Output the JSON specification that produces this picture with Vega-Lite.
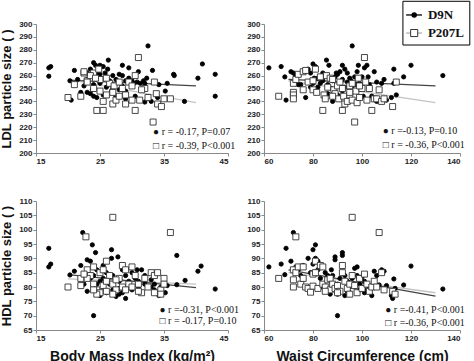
{
"$schema":"https://vega.github.io/schema/vega-lite/v6.json",
"padding":{"left":0,"top":0,"right":0,"bottom":0},
"background":"white",
"config":{
 "view":{"stroke":null},
 "axis":{"grid":false,"domainColor":"#888","tickColor":"#888","tickSize":3,"labelPadding":1,"labelOverlap":false,"labelSeparation":0,"labelBound":false,"labelFont":"Liberation Sans","labelFontSize":8,"labelFontWeight":"bold","labelColor":"#222","titleFont":"Liberation Sans","titleFontWeight":"bold","titleColor":"#111","titleFontSize":13},
 "legend":{"disable":true}
},
"datasets":{
 "ldl_bmi":[
  {"group":"D9N","bmi":17,"ldl":266},{"group":"D9N","bmi":17.3,"ldl":267},{"group":"D9N","bmi":17,"ldl":259.5},{"group":"D9N","bmi":20.3,"ldl":256},{"group":"D9N","bmi":20.5,"ldl":241},{"group":"D9N","bmi":21,"ldl":264},
  {"group":"D9N","bmi":26.3,"ldl":272},{"group":"D9N","bmi":28.5,"ldl":268},{"group":"D9N","bmi":29.5,"ldl":266},{"group":"D9N","bmi":32.5,"ldl":283},{"group":"D9N","bmi":33.2,"ldl":264},{"group":"D9N","bmi":31,"ldl":263},
  {"group":"D9N","bmi":36.5,"ldl":261},{"group":"D9N","bmi":36.6,"ldl":260},{"group":"D9N","bmi":40.3,"ldl":258},{"group":"D9N","bmi":41,"ldl":269},{"group":"D9N","bmi":43,"ldl":261},{"group":"D9N","bmi":43,"ldl":244},
  {"group":"D9N","bmi":38.2,"ldl":240},{"group":"D9N","bmi":35.2,"ldl":248},{"group":"D9N","bmi":35.5,"ldl":254},{"group":"D9N","bmi":34,"ldl":243},{"group":"D9N","bmi":33,"ldl":240},{"group":"D9N","bmi":32,"ldl":239.5},
  {"group":"D9N","bmi":34.2,"ldl":253},{"group":"D9N","bmi":24.5,"ldl":243},{"group":"D9N","bmi":23.5,"ldl":246},{"group":"D9N","bmi":23,"ldl":262},{"group":"D9N","bmi":23.5,"ldl":265},{"group":"D9N","bmi":24,"ldl":270},
  {"group":"D9N","bmi":24.3,"ldl":268},{"group":"D9N","bmi":25,"ldl":268},{"group":"D9N","bmi":25.5,"ldl":267},{"group":"D9N","bmi":24.5,"ldl":262},{"group":"D9N","bmi":23,"ldl":257},{"group":"D9N","bmi":22.5,"ldl":252},
  {"group":"D9N","bmi":23.8,"ldl":249},{"group":"D9N","bmi":25.8,"ldl":262},{"group":"D9N","bmi":26,"ldl":259},{"group":"D9N","bmi":26.5,"ldl":256},{"group":"D9N","bmi":27,"ldl":260},{"group":"D9N","bmi":27.5,"ldl":257},
  {"group":"D9N","bmi":28,"ldl":261},{"group":"D9N","bmi":28.5,"ldl":260},{"group":"D9N","bmi":29,"ldl":256},{"group":"D9N","bmi":29.5,"ldl":258},{"group":"D9N","bmi":30,"ldl":256},{"group":"D9N","bmi":30.3,"ldl":254},
  {"group":"D9N","bmi":30.8,"ldl":255},{"group":"D9N","bmi":31.3,"ldl":254},{"group":"D9N","bmi":31.8,"ldl":256},{"group":"D9N","bmi":31.5,"ldl":249},{"group":"D9N","bmi":29,"ldl":248},{"group":"D9N","bmi":28,"ldl":249},
  {"group":"D9N","bmi":27,"ldl":250},{"group":"D9N","bmi":26,"ldl":251},{"group":"D9N","bmi":25,"ldl":254},{"group":"D9N","bmi":24,"ldl":253},{"group":"D9N","bmi":23,"ldl":247},{"group":"D9N","bmi":27.5,"ldl":244},
  {"group":"D9N","bmi":29,"ldl":242},{"group":"D9N","bmi":28.5,"ldl":252},{"group":"D9N","bmi":25.5,"ldl":245},{"group":"D9N","bmi":26.8,"ldl":248},{"group":"D9N","bmi":30.5,"ldl":244},{"group":"D9N","bmi":32,"ldl":254},
  {"group":"D9N","bmi":32.3,"ldl":258},{"group":"D9N","bmi":22,"ldl":247},{"group":"D9N","bmi":21.5,"ldl":257},{"group":"D9N","bmi":24,"ldl":244},{"group":"D9N","bmi":26.2,"ldl":265},{"group":"D9N","bmi":25,"ldl":261},
  {"group":"P207L","bmi":20,"ldl":243},{"group":"P207L","bmi":21,"ldl":253},{"group":"P207L","bmi":22,"ldl":244},{"group":"P207L","bmi":22.5,"ldl":262},{"group":"P207L","bmi":23,"ldl":256},{"group":"P207L","bmi":24.5,"ldl":233},
  {"group":"P207L","bmi":25.5,"ldl":233},{"group":"P207L","bmi":27,"ldl":238},{"group":"P207L","bmi":29,"ldl":238},{"group":"P207L","bmi":30.5,"ldl":233},{"group":"P207L","bmi":33.3,"ldl":224},{"group":"P207L","bmi":31,"ldl":274},
  {"group":"P207L","bmi":30.5,"ldl":260},{"group":"P207L","bmi":33.5,"ldl":255},{"group":"P207L","bmi":32,"ldl":250},{"group":"P207L","bmi":33.8,"ldl":246},{"group":"P207L","bmi":34,"ldl":238},{"group":"P207L","bmi":34.6,"ldl":236},
  {"group":"P207L","bmi":35,"ldl":242},{"group":"P207L","bmi":36,"ldl":242},{"group":"P207L","bmi":32.5,"ldl":243},{"group":"P207L","bmi":30,"ldl":241},{"group":"P207L","bmi":31.2,"ldl":241},{"group":"P207L","bmi":27.5,"ldl":241},
  {"group":"P207L","bmi":28,"ldl":244},{"group":"P207L","bmi":26,"ldl":245},{"group":"P207L","bmi":25,"ldl":248},{"group":"P207L","bmi":24,"ldl":250},{"group":"P207L","bmi":23,"ldl":255},{"group":"P207L","bmi":24,"ldl":262},
  {"group":"P207L","bmi":24.8,"ldl":265},{"group":"P207L","bmi":25,"ldl":257},{"group":"P207L","bmi":26.5,"ldl":254},{"group":"P207L","bmi":27.2,"ldl":252},{"group":"P207L","bmi":28.5,"ldl":250},{"group":"P207L","bmi":29.5,"ldl":255},
  {"group":"P207L","bmi":30,"ldl":252},{"group":"P207L","bmi":31.5,"ldl":249},{"group":"P207L","bmi":26,"ldl":258},{"group":"P207L","bmi":23.5,"ldl":260},{"group":"P207L","bmi":25.5,"ldl":240},{"group":"P207L","bmi":27,"ldl":247},
  {"group":"P207L","bmi":29,"ldl":245},{"group":"P207L","bmi":28,"ldl":255},{"group":"P207L","bmi":22.5,"ldl":263},{"group":"P207L","bmi":24.3,"ldl":258}
 ],
 "ldl_waist":[
  {"group":"D9N","waist":62,"ldl":266},{"group":"D9N","waist":67,"ldl":267},{"group":"D9N","waist":68.5,"ldl":259},{"group":"D9N","waist":69,"ldl":241},{"group":"D9N","waist":71,"ldl":263},{"group":"D9N","waist":72,"ldl":262},
  {"group":"D9N","waist":73,"ldl":260},{"group":"D9N","waist":74,"ldl":253},{"group":"D9N","waist":75,"ldl":253},{"group":"D9N","waist":77,"ldl":243},{"group":"D9N","waist":78,"ldl":265},{"group":"D9N","waist":79,"ldl":262},
  {"group":"D9N","waist":80,"ldl":269},{"group":"D9N","waist":80.5,"ldl":258},{"group":"D9N","waist":81,"ldl":267},{"group":"D9N","waist":82,"ldl":251},{"group":"D9N","waist":83,"ldl":254},{"group":"D9N","waist":84,"ldl":262},
  {"group":"D9N","waist":85.5,"ldl":272},{"group":"D9N","waist":86.5,"ldl":268},{"group":"D9N","waist":86,"ldl":260},{"group":"D9N","waist":86,"ldl":253},{"group":"D9N","waist":87.5,"ldl":250},{"group":"D9N","waist":88,"ldl":240},
  {"group":"D9N","waist":88,"ldl":256},{"group":"D9N","waist":89,"ldl":259},{"group":"D9N","waist":89.5,"ldl":262},{"group":"D9N","waist":90,"ldl":261},{"group":"D9N","waist":91,"ldl":263},{"group":"D9N","waist":92,"ldl":268},
  {"group":"D9N","waist":92,"ldl":257},{"group":"D9N","waist":93,"ldl":265},{"group":"D9N","waist":94,"ldl":255},{"group":"D9N","waist":94,"ldl":262},{"group":"D9N","waist":95,"ldl":249},{"group":"D9N","waist":95.5,"ldl":256},
  {"group":"D9N","waist":96,"ldl":283},{"group":"D9N","waist":97,"ldl":259},{"group":"D9N","waist":98,"ldl":263},{"group":"D9N","waist":98.5,"ldl":268},{"group":"D9N","waist":99,"ldl":254},{"group":"D9N","waist":100,"ldl":259},
  {"group":"D9N","waist":100.5,"ldl":244},{"group":"D9N","waist":101,"ldl":266},{"group":"D9N","waist":102,"ldl":268},{"group":"D9N","waist":102.5,"ldl":259},{"group":"D9N","waist":103,"ldl":253},{"group":"D9N","waist":104,"ldl":244},
  {"group":"D9N","waist":105,"ldl":263},{"group":"D9N","waist":106,"ldl":255},{"group":"D9N","waist":106,"ldl":240},{"group":"D9N","waist":108,"ldl":254},{"group":"D9N","waist":109,"ldl":257},{"group":"D9N","waist":110,"ldl":241},
  {"group":"D9N","waist":112,"ldl":243},{"group":"D9N","waist":113,"ldl":265},{"group":"D9N","waist":114,"ldl":245},{"group":"D9N","waist":113,"ldl":254},{"group":"D9N","waist":117,"ldl":259},{"group":"D9N","waist":120,"ldl":268},
  {"group":"D9N","waist":133,"ldl":260},{"group":"D9N","waist":90,"ldl":245},{"group":"D9N","waist":92,"ldl":248},{"group":"D9N","waist":96,"ldl":250},{"group":"D9N","waist":86,"ldl":246},{"group":"D9N","waist":84,"ldl":256},
  {"group":"D9N","waist":80,"ldl":254},{"group":"D9N","waist":79,"ldl":251},{"group":"D9N","waist":82,"ldl":258},{"group":"D9N","waist":97.5,"ldl":253},{"group":"D9N","waist":91,"ldl":253},{"group":"D9N","waist":93,"ldl":251},
  {"group":"D9N","waist":87,"ldl":258},{"group":"D9N","waist":95,"ldl":258},
  {"group":"P207L","waist":66,"ldl":244},{"group":"P207L","waist":72,"ldl":247},{"group":"P207L","waist":72,"ldl":245},{"group":"P207L","waist":72,"ldl":242},{"group":"P207L","waist":72,"ldl":254},{"group":"P207L","waist":73,"ldl":257},
  {"group":"P207L","waist":74,"ldl":261},{"group":"P207L","waist":76,"ldl":249},{"group":"P207L","waist":76,"ldl":263},{"group":"P207L","waist":77,"ldl":264},{"group":"P207L","waist":78,"ldl":255},{"group":"P207L","waist":80,"ldl":249},
  {"group":"P207L","waist":80,"ldl":256},{"group":"P207L","waist":81,"ldl":265},{"group":"P207L","waist":81.5,"ldl":247},{"group":"P207L","waist":83,"ldl":259},{"group":"P207L","waist":84,"ldl":233},{"group":"P207L","waist":84.5,"ldl":245},
  {"group":"P207L","waist":85,"ldl":242},{"group":"P207L","waist":85.5,"ldl":260},{"group":"P207L","waist":86,"ldl":251},{"group":"P207L","waist":87,"ldl":258},{"group":"P207L","waist":88,"ldl":257},{"group":"P207L","waist":88.5,"ldl":249},
  {"group":"P207L","waist":89,"ldl":246},{"group":"P207L","waist":90,"ldl":252},{"group":"P207L","waist":90.5,"ldl":242},{"group":"P207L","waist":91,"ldl":255},{"group":"P207L","waist":92,"ldl":233},{"group":"P207L","waist":92.5,"ldl":244},
  {"group":"P207L","waist":93,"ldl":238},{"group":"P207L","waist":94,"ldl":240},{"group":"P207L","waist":95,"ldl":252},{"group":"P207L","waist":95,"ldl":245},{"group":"P207L","waist":96,"ldl":241},{"group":"P207L","waist":97,"ldl":224},
  {"group":"P207L","waist":97.5,"ldl":248},{"group":"P207L","waist":98,"ldl":239},{"group":"P207L","waist":98.5,"ldl":258},{"group":"P207L","waist":99,"ldl":243},{"group":"P207L","waist":100,"ldl":250},{"group":"P207L","waist":101,"ldl":274},
  {"group":"P207L","waist":101.5,"ldl":255},{"group":"P207L","waist":102,"ldl":241},{"group":"P207L","waist":103,"ldl":250},{"group":"P207L","waist":104,"ldl":233},{"group":"P207L","waist":105,"ldl":242},{"group":"P207L","waist":106,"ldl":242},
  {"group":"P207L","waist":107,"ldl":249},{"group":"P207L","waist":108,"ldl":240},{"group":"P207L","waist":109,"ldl":242},{"group":"P207L","waist":112.5,"ldl":236},{"group":"P207L","waist":114,"ldl":255},{"group":"P207L","waist":92,"ldl":250},
  {"group":"P207L","waist":95,"ldl":247},{"group":"P207L","waist":88,"ldl":244},{"group":"P207L","waist":99,"ldl":252},{"group":"P207L","waist":96,"ldl":254}
 ],
 "hdl_bmi":[
  {"group":"D9N","bmi":17,"hdl":93.5},{"group":"D9N","bmi":17,"hdl":87},{"group":"D9N","bmi":17.3,"hdl":88},{"group":"D9N","bmi":20.3,"hdl":84.2},{"group":"D9N","bmi":21,"hdl":85.5},{"group":"D9N","bmi":22,"hdl":87.5},
  {"group":"D9N","bmi":22.3,"hdl":99},{"group":"D9N","bmi":23,"hdl":89.5},{"group":"D9N","bmi":23.5,"hdl":89},{"group":"D9N","bmi":23.8,"hdl":94.7},{"group":"D9N","bmi":24.3,"hdl":92},{"group":"D9N","bmi":24,"hdl":70},
  {"group":"D9N","bmi":24.5,"hdl":86},{"group":"D9N","bmi":25,"hdl":82},{"group":"D9N","bmi":25.5,"hdl":87.5},{"group":"D9N","bmi":26.8,"hdl":93},{"group":"D9N","bmi":26.8,"hdl":90},{"group":"D9N","bmi":27.8,"hdl":90.5},
  {"group":"D9N","bmi":26,"hdl":85},{"group":"D9N","bmi":27,"hdl":84},{"group":"D9N","bmi":28,"hdl":82},{"group":"D9N","bmi":28.5,"hdl":86},{"group":"D9N","bmi":29,"hdl":84},{"group":"D9N","bmi":29.5,"hdl":80},
  {"group":"D9N","bmi":30,"hdl":85},{"group":"D9N","bmi":30.8,"hdl":86},{"group":"D9N","bmi":31.5,"hdl":86},{"group":"D9N","bmi":31,"hdl":82},{"group":"D9N","bmi":32,"hdl":81},{"group":"D9N","bmi":33,"hdl":80},
  {"group":"D9N","bmi":33.5,"hdl":79},{"group":"D9N","bmi":34.2,"hdl":77},{"group":"D9N","bmi":35.2,"hdl":78},{"group":"D9N","bmi":35.5,"hdl":80.5},{"group":"D9N","bmi":37,"hdl":91},{"group":"D9N","bmi":37,"hdl":80.8},
  {"group":"D9N","bmi":38.3,"hdl":82.3},{"group":"D9N","bmi":40.3,"hdl":85.5},{"group":"D9N","bmi":40.8,"hdl":87.3},{"group":"D9N","bmi":43,"hdl":79.3},{"group":"D9N","bmi":23,"hdl":78.5},{"group":"D9N","bmi":24,"hdl":80},
  {"group":"D9N","bmi":25,"hdl":77},{"group":"D9N","bmi":26,"hdl":78},{"group":"D9N","bmi":27.5,"hdl":76.7},{"group":"D9N","bmi":29,"hdl":76},{"group":"D9N","bmi":28,"hdl":79.5},{"group":"D9N","bmi":30,"hdl":79},
  {"group":"D9N","bmi":22.5,"hdl":81},{"group":"D9N","bmi":23.5,"hdl":83},{"group":"D9N","bmi":24.5,"hdl":81},{"group":"D9N","bmi":25.5,"hdl":80},{"group":"D9N","bmi":26.5,"hdl":81},{"group":"D9N","bmi":27,"hdl":79},
  {"group":"D9N","bmi":28.5,"hdl":78},{"group":"D9N","bmi":31,"hdl":80},{"group":"D9N","bmi":32.5,"hdl":80},{"group":"D9N","bmi":33.5,"hdl":81},{"group":"D9N","bmi":29.5,"hdl":82},{"group":"D9N","bmi":32,"hdl":84},
  {"group":"D9N","bmi":23,"hdl":86},{"group":"D9N","bmi":24,"hdl":84},{"group":"D9N","bmi":25.5,"hdl":83},{"group":"D9N","bmi":26.5,"hdl":83.5},{"group":"D9N","bmi":30.5,"hdl":83},{"group":"D9N","bmi":28,"hdl":77.5},
  {"group":"D9N","bmi":33,"hdl":82.5},{"group":"D9N","bmi":34.5,"hdl":80},
  {"group":"P207L","bmi":20,"hdl":80},{"group":"P207L","bmi":22,"hdl":80.5},{"group":"P207L","bmi":22,"hdl":83},{"group":"P207L","bmi":22.8,"hdl":97.5},{"group":"P207L","bmi":23,"hdl":86},{"group":"P207L","bmi":23.5,"hdl":84},
  {"group":"P207L","bmi":24,"hdl":87},{"group":"P207L","bmi":24,"hdl":81},{"group":"P207L","bmi":24.5,"hdl":79},{"group":"P207L","bmi":25,"hdl":78},{"group":"P207L","bmi":25.5,"hdl":80.5},{"group":"P207L","bmi":26,"hdl":89},
  {"group":"P207L","bmi":26.5,"hdl":84},{"group":"P207L","bmi":27,"hdl":104.3},{"group":"P207L","bmi":27,"hdl":81},{"group":"P207L","bmi":27.5,"hdl":79},{"group":"P207L","bmi":28,"hdl":83},{"group":"P207L","bmi":28.5,"hdl":87.5},
  {"group":"P207L","bmi":29,"hdl":86},{"group":"P207L","bmi":29.5,"hdl":81},{"group":"P207L","bmi":30,"hdl":87},{"group":"P207L","bmi":30.5,"hdl":84},{"group":"P207L","bmi":31,"hdl":81},{"group":"P207L","bmi":31.5,"hdl":78},
  {"group":"P207L","bmi":32,"hdl":83},{"group":"P207L","bmi":33,"hdl":85},{"group":"P207L","bmi":33.5,"hdl":84},{"group":"P207L","bmi":34,"hdl":85},{"group":"P207L","bmi":34.5,"hdl":79},{"group":"P207L","bmi":35,"hdl":83},
  {"group":"P207L","bmi":35,"hdl":81},{"group":"P207L","bmi":36,"hdl":99},{"group":"P207L","bmi":33.5,"hdl":78},{"group":"P207L","bmi":30,"hdl":80},{"group":"P207L","bmi":26,"hdl":82},{"group":"P207L","bmi":27.5,"hdl":82.5},
  {"group":"P207L","bmi":25,"hdl":85},{"group":"P207L","bmi":23,"hdl":83},{"group":"P207L","bmi":28.5,"hdl":80},{"group":"P207L","bmi":32.5,"hdl":80},{"group":"P207L","bmi":24.5,"hdl":77.5},{"group":"P207L","bmi":26,"hdl":78.5},
  {"group":"P207L","bmi":29,"hdl":79},{"group":"P207L","bmi":31,"hdl":78.5},{"group":"P207L","bmi":34.5,"hdl":77.5},{"group":"P207L","bmi":27,"hdl":77.5},{"group":"P207L","bmi":24,"hdl":79},{"group":"P207L","bmi":22.5,"hdl":84.5},
  {"group":"P207L","bmi":25.5,"hdl":86}
 ],
 "hdl_waist":[
  {"group":"D9N","waist":62,"hdl":87},{"group":"D9N","waist":67,"hdl":88},{"group":"D9N","waist":68.5,"hdl":84.3},{"group":"D9N","waist":69,"hdl":93.5},{"group":"D9N","waist":71,"hdl":89},{"group":"D9N","waist":72,"hdl":99},
  {"group":"D9N","waist":73,"hdl":87},{"group":"D9N","waist":74,"hdl":86},{"group":"D9N","waist":75,"hdl":84},{"group":"D9N","waist":76,"hdl":87.5},{"group":"D9N","waist":78,"hdl":90},{"group":"D9N","waist":79,"hdl":85},
  {"group":"D9N","waist":80,"hdl":93},{"group":"D9N","waist":80,"hdl":88},{"group":"D9N","waist":81,"hdl":94.7},{"group":"D9N","waist":81,"hdl":90},{"group":"D9N","waist":82,"hdl":86},{"group":"D9N","waist":82,"hdl":89},
  {"group":"D9N","waist":83,"hdl":83},{"group":"D9N","waist":85,"hdl":85},{"group":"D9N","waist":86,"hdl":84},{"group":"D9N","waist":87,"hdl":82},{"group":"D9N","waist":87.5,"hdl":86},{"group":"D9N","waist":88,"hdl":84},
  {"group":"D9N","waist":89,"hdl":90.5},{"group":"D9N","waist":89,"hdl":89.5},{"group":"D9N","waist":90,"hdl":70},{"group":"D9N","waist":90,"hdl":81},{"group":"D9N","waist":91,"hdl":83},{"group":"D9N","waist":92,"hdl":92},
  {"group":"D9N","waist":92,"hdl":91},{"group":"D9N","waist":93,"hdl":84},{"group":"D9N","waist":94,"hdl":82},{"group":"D9N","waist":95,"hdl":80},{"group":"D9N","waist":96,"hdl":83},{"group":"D9N","waist":97,"hdl":86.5},
  {"group":"D9N","waist":98,"hdl":87},{"group":"D9N","waist":98,"hdl":84},{"group":"D9N","waist":99,"hdl":81},{"group":"D9N","waist":100,"hdl":83.5},{"group":"D9N","waist":101,"hdl":82},{"group":"D9N","waist":102,"hdl":79},
  {"group":"D9N","waist":103,"hdl":80},{"group":"D9N","waist":104,"hdl":77},{"group":"D9N","waist":105,"hdl":85.5},{"group":"D9N","waist":106,"hdl":84},{"group":"D9N","waist":107,"hdl":80.7},{"group":"D9N","waist":108,"hdl":86},
  {"group":"D9N","waist":109,"hdl":85.5},{"group":"D9N","waist":112,"hdl":77},{"group":"D9N","waist":112.5,"hdl":76},{"group":"D9N","waist":113,"hdl":82.8},{"group":"D9N","waist":113.5,"hdl":79.5},{"group":"D9N","waist":117,"hdl":80.7},
  {"group":"D9N","waist":120,"hdl":87.3},{"group":"D9N","waist":133,"hdl":79.3},{"group":"D9N","waist":110,"hdl":80.5},{"group":"D9N","waist":87,"hdl":77.5},{"group":"D9N","waist":90,"hdl":77.5},{"group":"D9N","waist":93,"hdl":77},
  {"group":"D9N","waist":95,"hdl":78},{"group":"D9N","waist":99,"hdl":79},{"group":"D9N","waist":101,"hdl":78},{"group":"D9N","waist":84,"hdl":80},{"group":"D9N","waist":86,"hdl":79},{"group":"D9N","waist":97,"hdl":80},
  {"group":"D9N","waist":94,"hdl":78.5},{"group":"D9N","waist":88,"hdl":80.5},{"group":"D9N","waist":100,"hdl":80},
  {"group":"P207L","waist":66,"hdl":83},{"group":"P207L","waist":72,"hdl":86},{"group":"P207L","waist":72,"hdl":82.5},{"group":"P207L","waist":72,"hdl":80},{"group":"P207L","waist":73,"hdl":97.5},{"group":"P207L","waist":73,"hdl":85},
  {"group":"P207L","waist":74,"hdl":87},{"group":"P207L","waist":75,"hdl":81},{"group":"P207L","waist":76,"hdl":87},{"group":"P207L","waist":76,"hdl":83},{"group":"P207L","waist":77,"hdl":80},{"group":"P207L","waist":78,"hdl":79.5},
  {"group":"P207L","waist":79,"hdl":78.2},{"group":"P207L","waist":80,"hdl":84.5},{"group":"P207L","waist":80,"hdl":80.3},{"group":"P207L","waist":81,"hdl":89},{"group":"P207L","waist":81,"hdl":85},{"group":"P207L","waist":82,"hdl":79.5},
  {"group":"P207L","waist":83,"hdl":87.5},{"group":"P207L","waist":84,"hdl":87},{"group":"P207L","waist":84,"hdl":81},{"group":"P207L","waist":85,"hdl":80},{"group":"P207L","waist":86,"hdl":82.5},{"group":"P207L","waist":87,"hdl":83},
  {"group":"P207L","waist":87,"hdl":79},{"group":"P207L","waist":88,"hdl":81},{"group":"P207L","waist":89,"hdl":79.5},{"group":"P207L","waist":90,"hdl":80.5},{"group":"P207L","waist":91,"hdl":78.5},{"group":"P207L","waist":92,"hdl":87.5},
  {"group":"P207L","waist":92,"hdl":85},{"group":"P207L","waist":93,"hdl":82},{"group":"P207L","waist":94,"hdl":79.5},{"group":"P207L","waist":95,"hdl":81},{"group":"P207L","waist":96,"hdl":104.3},{"group":"P207L","waist":96,"hdl":84},
  {"group":"P207L","waist":97,"hdl":80.5},{"group":"P207L","waist":98,"hdl":78},{"group":"P207L","waist":99,"hdl":83},{"group":"P207L","waist":100,"hdl":79.5},{"group":"P207L","waist":101,"hdl":84.5},{"group":"P207L","waist":102,"hdl":81},
  {"group":"P207L","waist":103,"hdl":78.5},{"group":"P207L","waist":104,"hdl":80},{"group":"P207L","waist":105,"hdl":82},{"group":"P207L","waist":106,"hdl":80},{"group":"P207L","waist":107,"hdl":99},{"group":"P207L","waist":108,"hdl":85},
  {"group":"P207L","waist":109,"hdl":79},{"group":"P207L","waist":112.5,"hdl":78.5},{"group":"P207L","waist":113.5,"hdl":77.5},{"group":"P207L","waist":95,"hdl":77.5},{"group":"P207L","waist":90,"hdl":78},{"group":"P207L","waist":85,"hdl":78.5}
 ],
 "fits":[
  {"panel":"ldl_bmi","group":"D9N","x":20,"y":256.5},{"panel":"ldl_bmi","group":"D9N","x":40,"y":252},
  {"panel":"ldl_bmi","group":"P207L","x":20,"y":257},{"panel":"ldl_bmi","group":"P207L","x":40,"y":239},
  {"panel":"ldl_waist","group":"D9N","x":70,"y":257},{"panel":"ldl_waist","group":"D9N","x":130,"y":252},
  {"panel":"ldl_waist","group":"P207L","x":70,"y":256},{"panel":"ldl_waist","group":"P207L","x":130,"y":239},
  {"panel":"hdl_bmi","group":"D9N","x":20,"y":84.3},{"panel":"hdl_bmi","group":"D9N","x":40,"y":79.8},
  {"panel":"hdl_bmi","group":"P207L","x":20,"y":82.8},{"panel":"hdl_bmi","group":"P207L","x":40,"y":81},
  {"panel":"hdl_waist","group":"D9N","x":70,"y":86},{"panel":"hdl_waist","group":"D9N","x":130,"y":76.8},
  {"panel":"hdl_waist","group":"P207L","x":70,"y":85},{"panel":"hdl_waist","group":"P207L","x":130,"y":78}
 ],
 "notes":[
  {"panel":"ldl_bmi","x":33.3,"y":216,"label":"● r = -0.17, P=0.07"},
  {"panel":"ldl_bmi","x":33.3,"y":205.7,"label":"□ r = -0.39, P<0.001"},
  {"panel":"ldl_waist","x":108.5,"y":217,"label":"● r =-0.13, P=0.10"},
  {"panel":"ldl_waist","x":108.5,"y":206,"label":"□ r = -0.36, P<0.001"},
  {"panel":"hdl_bmi","x":34.3,"y":72,"label":"● r =-0.31, P<0.001"},
  {"panel":"hdl_bmi","x":34.3,"y":68.3,"label":"□ r = -0.17, P=0.10"},
  {"panel":"hdl_waist","x":109.5,"y":72,"label":"● r =-0.41, P<0.001"},
  {"panel":"hdl_waist","x":109.5,"y":67.6,"label":"□ r =-0.36, P<0.001"}
 ]
},
"spacing":32,
"vconcat":[
 {"bounds":"flush","spacing":36,"hconcat":[
  {"width":192,"height":129,
   "encoding":{
    "x":{"type":"quantitative","scale":{"domain":[15,45],"nice":false},"axis":{"values":[15,25,35,45],"title":null,"labelOverlap":false}},
    "y":{"type":"quantitative","scale":{"domain":[200,300],"nice":false},"axis":{"values":[200,210,220,230,240,250,260,270,280,290,300],"labelOverlap":false,"title":"LDL particle size (  )","titlePadding":5}}},
   "layer":[
   {"data":{"name":"fits"},"transform":[{"filter":"datum.panel==='ldl_bmi' && datum.group==='P207L'"}],"mark":{"type":"line","strokeWidth":1.3,"color":"#c4c4c4"},
    "encoding":{"x":{"field":"x"},"y":{"field":"y"}}},
   {"data":{"name":"fits"},"transform":[{"filter":"datum.panel==='ldl_bmi' && datum.group==='D9N'"}],"mark":{"type":"line","strokeWidth":1.3,"color":"#444"},
    "encoding":{"x":{"field":"x"},"y":{"field":"y"}}},
   {"data":{"name":"ldl_bmi"},"mark":{"type":"point","opacity":1,"strokeWidth":0.9},
    "encoding":{"x":{"field":"bmi"},"y":{"field":"ldl"},
     "shape":{"field":"group","type":"nominal","scale":{"domain":["D9N","P207L"],"range":["circle","square"]}},
     "fill":{"field":"group","type":"nominal","scale":{"domain":["D9N","P207L"],"range":["black","white"]}},
     "stroke":{"field":"group","type":"nominal","scale":{"domain":["D9N","P207L"],"range":["black","#333"]}},
     "size":{"field":"group","type":"nominal","scale":{"domain":["D9N","P207L"],"range":[18,36]}}}},
   {"data":{"name":"notes"},"transform":[{"filter":"datum.panel==='ldl_bmi'"}],"mark":{"type":"text","align":"left","baseline":"middle","font":"Liberation Serif","fontSize":10,"color":"#111"},
    "encoding":{"x":{"field":"x"},"y":{"field":"y"},"text":{"field":"label"}}}
  ]},
  {"width":196,"height":129,
   "encoding":{
    "x":{"type":"quantitative","scale":{"domain":[60,140],"nice":false},"axis":{"values":[60,80,100,120,140],"title":null,"labelOverlap":false}},
    "y":{"type":"quantitative","scale":{"domain":[200,300],"nice":false},"axis":{"values":[200,210,220,230,240,250,260,270,280,290,300],"labelOverlap":false,"title":null}}},
   "layer":[
   {"data":{"name":"fits"},"transform":[{"filter":"datum.panel==='ldl_waist' && datum.group==='P207L'"}],"mark":{"type":"line","strokeWidth":1.3,"color":"#c4c4c4"},
    "encoding":{"x":{"field":"x"},"y":{"field":"y"}}},
   {"data":{"name":"fits"},"transform":[{"filter":"datum.panel==='ldl_waist' && datum.group==='D9N'"}],"mark":{"type":"line","strokeWidth":1.3,"color":"#444"},
    "encoding":{"x":{"field":"x"},"y":{"field":"y"}}},
   {"data":{"name":"ldl_waist"},"mark":{"type":"point","opacity":1,"strokeWidth":0.9},
    "encoding":{"x":{"field":"waist"},"y":{"field":"ldl"},
     "shape":{"field":"group","type":"nominal","scale":{"domain":["D9N","P207L"],"range":["circle","square"]}},
     "fill":{"field":"group","type":"nominal","scale":{"domain":["D9N","P207L"],"range":["black","white"]}},
     "stroke":{"field":"group","type":"nominal","scale":{"domain":["D9N","P207L"],"range":["black","#333"]}},
     "size":{"field":"group","type":"nominal","scale":{"domain":["D9N","P207L"],"range":[18,36]}}}},
   {"data":{"name":"notes"},"transform":[{"filter":"datum.panel==='ldl_waist'"}],"mark":{"type":"text","align":"left","baseline":"middle","font":"Liberation Serif","fontSize":10,"color":"#111"},
    "encoding":{"x":{"field":"x"},"y":{"field":"y"},"text":{"field":"label"}}},
   {"data":{"values":[{}]},"mark":{"type":"rect","fill":"white","stroke":"black","strokeWidth":1,"clip":false},
    "encoding":{"x":{"datum":116.7},"x2":{"datum":144},"y":{"datum":283.7},"y2":{"datum":317.6}}},
   {"data":{"values":[{}]},"mark":{"type":"rule","color":"#222","strokeWidth":1.5,"clip":false},
    "encoding":{"x":{"datum":118},"x2":{"datum":124.5},"y":{"datum":307}}},
   {"data":{"values":[{}]},"mark":{"type":"rule","color":"#bbb","strokeWidth":1.5,"clip":false},
    "encoding":{"x":{"datum":118},"x2":{"datum":124.5},"y":{"datum":293}}},
   {"data":{"values":[{}]},"mark":{"type":"point","shape":"circle","filled":true,"color":"black","size":30,"opacity":1,"clip":false},
    "encoding":{"x":{"datum":121.3},"y":{"datum":307}}},
   {"data":{"values":[{}]},"mark":{"type":"point","shape":"square","fill":"white","stroke":"#333","strokeWidth":1,"size":50,"opacity":1,"clip":false},
    "encoding":{"x":{"datum":121.3},"y":{"datum":293}}},
   {"data":{"values":[{}]},"mark":{"type":"text","align":"left","baseline":"middle","font":"Liberation Serif","fontSize":13,"fontWeight":"bold","color":"#111","clip":false},
    "encoding":{"x":{"datum":126.9},"y":{"datum":307},"text":{"value":"D9N"}}},
   {"data":{"values":[{}]},"mark":{"type":"text","align":"left","baseline":"middle","font":"Liberation Serif","fontSize":13,"fontWeight":"bold","color":"#111","clip":false},
    "encoding":{"x":{"datum":126.9},"y":{"datum":293},"text":{"value":"P207L"}}}
  ]}
 ]},
 {"bounds":"flush","spacing":36,"hconcat":[
  {"width":192,"height":129,
   "encoding":{
    "x":{"type":"quantitative","scale":{"domain":[15,45],"nice":false},"axis":{"values":[15,25,35,45],"labelOverlap":false,"title":"Body Mass Index (kg/m²)","titleFontSize":14,"titlePadding":7}},
    "y":{"type":"quantitative","scale":{"domain":[65,110],"nice":false},"axis":{"values":[65,70,75,80,85,90,95,100,105,110],"labelOverlap":false,"title":"HDL particle size (  )","titlePadding":5}}},
   "layer":[
   {"data":{"name":"fits"},"transform":[{"filter":"datum.panel==='hdl_bmi' && datum.group==='P207L'"}],"mark":{"type":"line","strokeWidth":1.3,"color":"#c4c4c4"},
    "encoding":{"x":{"field":"x"},"y":{"field":"y"}}},
   {"data":{"name":"fits"},"transform":[{"filter":"datum.panel==='hdl_bmi' && datum.group==='D9N'"}],"mark":{"type":"line","strokeWidth":1.3,"color":"#444"},
    "encoding":{"x":{"field":"x"},"y":{"field":"y"}}},
   {"data":{"name":"hdl_bmi"},"mark":{"type":"point","opacity":1,"strokeWidth":0.9},
    "encoding":{"x":{"field":"bmi"},"y":{"field":"hdl"},
     "shape":{"field":"group","type":"nominal","scale":{"domain":["D9N","P207L"],"range":["circle","square"]}},
     "fill":{"field":"group","type":"nominal","scale":{"domain":["D9N","P207L"],"range":["black","white"]}},
     "stroke":{"field":"group","type":"nominal","scale":{"domain":["D9N","P207L"],"range":["black","#333"]}},
     "size":{"field":"group","type":"nominal","scale":{"domain":["D9N","P207L"],"range":[18,36]}}}},
   {"data":{"name":"notes"},"transform":[{"filter":"datum.panel==='hdl_bmi'"}],"mark":{"type":"text","align":"left","baseline":"middle","font":"Liberation Serif","fontSize":10,"color":"#111"},
    "encoding":{"x":{"field":"x"},"y":{"field":"y"},"text":{"field":"label"}}}
  ]},
  {"width":196,"height":129,
   "encoding":{
    "x":{"type":"quantitative","scale":{"domain":[60,140],"nice":false},"axis":{"values":[60,80,100,120,140],"labelOverlap":false,"title":"Waist Circumference (cm)","titleFontSize":14,"titlePadding":7}},
    "y":{"type":"quantitative","scale":{"domain":[65,110],"nice":false},"axis":{"values":[65,70,75,80,85,90,95,100,105,110],"labelOverlap":false,"title":null}}},
   "layer":[
   {"data":{"name":"fits"},"transform":[{"filter":"datum.panel==='hdl_waist' && datum.group==='P207L'"}],"mark":{"type":"line","strokeWidth":1.3,"color":"#c4c4c4"},
    "encoding":{"x":{"field":"x"},"y":{"field":"y"}}},
   {"data":{"name":"fits"},"transform":[{"filter":"datum.panel==='hdl_waist' && datum.group==='D9N'"}],"mark":{"type":"line","strokeWidth":1.3,"color":"#444"},
    "encoding":{"x":{"field":"x"},"y":{"field":"y"}}},
   {"data":{"name":"hdl_waist"},"mark":{"type":"point","opacity":1,"strokeWidth":0.9},
    "encoding":{"x":{"field":"waist"},"y":{"field":"hdl"},
     "shape":{"field":"group","type":"nominal","scale":{"domain":["D9N","P207L"],"range":["circle","square"]}},
     "fill":{"field":"group","type":"nominal","scale":{"domain":["D9N","P207L"],"range":["black","white"]}},
     "stroke":{"field":"group","type":"nominal","scale":{"domain":["D9N","P207L"],"range":["black","#333"]}},
     "size":{"field":"group","type":"nominal","scale":{"domain":["D9N","P207L"],"range":[18,36]}}}},
   {"data":{"name":"notes"},"transform":[{"filter":"datum.panel==='hdl_waist'"}],"mark":{"type":"text","align":"left","baseline":"middle","font":"Liberation Serif","fontSize":10,"color":"#111"},
    "encoding":{"x":{"field":"x"},"y":{"field":"y"},"text":{"field":"label"}}}
  ]}
 ]}
]
}
